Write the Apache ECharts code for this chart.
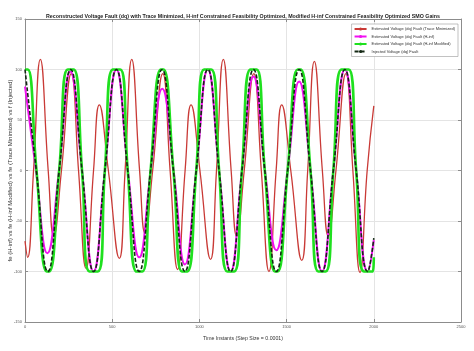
<!DOCTYPE html>
<html>
<head>
<meta charset="utf-8">
<title>Reconstructed Voltage Fault (dq)</title>
<script src="https://cdn.jsdelivr.net/npm/echarts@6.0.0/dist/echarts.min.js"></script>
<style>
    html, body { margin: 0; padding: 0; background: #fff; }
    #main { width: 474px; height: 351px; }
</style>
</head>
<body>
<div id="main"></div>
<script>
// 数据 (peaks, troughs and zero crossings)
var xTicks = [0, 500, 1000, 1500, 2000, 2500];
var yTicks = [-150, -100, -50, 0, 50, 100, 150];

var names = [
    'Estimated Voltage (dq) Fault (Trace Minimized)',
    'Estimated Voltage (dq) Fault (H-inf)',
    'Estimated Voltage (dq) Fault (H-inf Modified)',
    'Injected Voltage (dq) Fault'
];

// fe (Trace Minimized)
var traceMinimized = [
    [0, -70], [15, -86], [49, 0], [88, 110], [133, 0], [165, -65], [209, 0], [265, 96],
    [307, 0], [350, -97], [393, 0], [426, 65], [478, 0], [541, -87], [574, 0], [612, 110],
    [657, 0], [688, -62], [732, 0], [790, 96], [832, 0], [875, -98], [918, 0], [952, 65],
    [1003, 0], [1064, -88], [1098, 0], [1137, 110], [1182, 0], [1214, -65], [1257, 0], [1312, 96],
    [1355, 0], [1399, -100], [1440, 0], [1472, 65], [1524, 0], [1587, -89], [1621, 0], [1659, 108],
    [1705, 0], [1739, -65], [1783, 0], [1840, 96], [1880, 0], [1921, -101], [1962, 0], [2000, 64]
];

// fe (H-inf)
var hinf = [
    [0, 83], [63, 0], [128, -82], [195, 0], [260, 98], [327, 0], [393, -100], [458, 0],
    [524, 100], [590, 0], [655, -86], [721, 0], [787, 81], [852, 0], [917, -93], [982, 0],
    [1048, 100], [1113, 0], [1179, -100], [1244, 0], [1310, 93], [1376, 0], [1441, -79], [1506, 0],
    [1572, 88], [1637, 0], [1703, -100], [1768, 0], [1834, 100], [1899, 0], [1965, -100], [2000, -69]
];

// fe (H-inf Modified), flat at +/-100
var hinfModified = [
    [0, 100], [16, 100], [66, 0], [125, -100], [139, -100], [196, 0], [245, 100], [279, 100],
    [327, 0], [370, -100], [418, -100], [458, 0], [504, 100], [546, 100], [589, 0], [640, -100],
    [673, -100], [720, 0], [779, 100], [794, 100], [851, 0], [900, -100], [930, -100], [982, 0],
    [1027, 100], [1068, 100], [1113, 0], [1160, -100], [1200, -100], [1244, 0], [1293, 100], [1328, 100],
    [1375, 0], [1434, -100], [1449, -100], [1506, 0], [1563, 100], [1581, 100], [1637, 0], [1682, -100],
    [1724, -100], [1768, 0], [1815, 100], [1856, 100], [1899, 0], [1944, -100], [1994, -100], [2000, -86]
];

// f (Injected)
var injected = [
    [0, 100], [65, 0], [131, -100], [196, 0], [262, 100], [327, 0], [393, -100], [458, 0],
    [524, 100], [589, 0], [655, -100], [720, 0], [786, 100], [851, 0], [917, -100], [982, 0],
    [1048, 100], [1113, 0], [1179, -100], [1244, 0], [1310, 100], [1375, 0], [1441, -100], [1506, 0],
    [1572, 100], [1637, 0], [1703, -100], [1768, 0], [1834, 100], [1899, 0], [1965, -100], [2000, -67]
];

var font = 'Liberation Sans, Arial, sans-serif';
var myChart = echarts.init(document.getElementById('main'));

function boxAxis(pos, ticks, showLabel) {
    return {
        type: 'value',
        position: pos,
        min: ticks[0],
        max: ticks[ticks.length - 1],
        interval: ticks[1] - ticks[0],
        axisLine: { show: true, onZero: false, lineStyle: { color: '#8c8c8c', width: 1 } },
        axisTick: { show: true, inside: true, length: 3, lineStyle: { color: '#8c8c8c' } },
        axisLabel: {
            show: showLabel, fontSize: 4, color: '#555', fontFamily: font, margin: 3,
            formatter: function (v) { return String(v); }
        },
        splitLine: { show: showLabel, lineStyle: { color: '#e4e4e4', width: 1 } }
    };
}

var xBottom = boxAxis('bottom', xTicks, true);
xBottom.name = 'Time Instants (Step Size = 0.0001)';
xBottom.nameLocation = 'middle';
xBottom.nameGap = 14;
xBottom.nameMoveOverlap = false;
xBottom.nameTextStyle = { fontSize: 5.2, color: '#333', fontFamily: font };

var yLeft = boxAxis('left', yTicks, true);
yLeft.name = 'fe (H-inf) vs fe (H-inf Modified) vs fe (Trace Minimized) vs f (Injected)';
yLeft.nameLocation = 'middle';
yLeft.nameRotate = 90;
yLeft.nameGap = 15;
yLeft.nameMoveOverlap = false;
yLeft.nameTextStyle = { fontSize: 6, color: '#333', fontFamily: font, verticalAlign: 'middle' };

myChart.setOption({
    animation: false,
    backgroundColor: '#fff',
    title: {
        text: 'Reconstructed Voltage Fault (dq) with Trace Minimized, H-inf Constrained Feasibility Optimized, Modified H-inf Constrained Feasibility Optimized SMO Gains',
        left: 238,
        top: 9,
        textAlign: 'center',
        textStyle: { fontSize: 5.3, fontWeight: 'bold', color: '#222', fontFamily: font }
    },
    grid: { left: 25, right: 13, top: 19, bottom: 29, containLabel: false, outerBoundsMode: 'none' },
    legend: {
        orient: 'vertical',
        right: 16,
        top: 24,
        backgroundColor: '#fff',
        borderColor: '#999',
        borderWidth: 0.6,
        borderRadius: 0,
        padding: [3, 3, 3, 2],
        itemWidth: 12,
        itemHeight: 4,
        itemGap: 3.5,
        textStyle: { fontSize: 4, color: '#333', fontFamily: font },
        data: names
    },
    xAxis: [xBottom, boxAxis('top', xTicks, false)],
    yAxis: [yLeft, boxAxis('right', yTicks, false)],
    series: [
        {
            name: names[0], type: 'line', smooth: true, symbol: 'none',
            data: traceMinimized,
            lineStyle: { color: '#c93a36', width: 1.3 }, itemStyle: { color: '#c93a36' }
        },
        {
            name: names[1], type: 'line', smooth: true, symbol: 'none',
            data: hinf,
            lineStyle: { color: '#f010f0', width: 2 }, itemStyle: { color: '#f010f0' }
        },
        {
            name: names[2], type: 'line', smooth: true, symbol: 'none',
            data: hinfModified,
            lineStyle: { color: '#1fe01f', width: 2.6 }, itemStyle: { color: '#1fe01f' }
        },
        {
            name: names[3], type: 'line', smooth: true, symbol: 'none',
            data: injected,
            lineStyle: { color: '#142814', width: 1.6, type: [4, 2] }, itemStyle: { color: '#142814' }
        }
    ]
});
</script>
</body>
</html>
